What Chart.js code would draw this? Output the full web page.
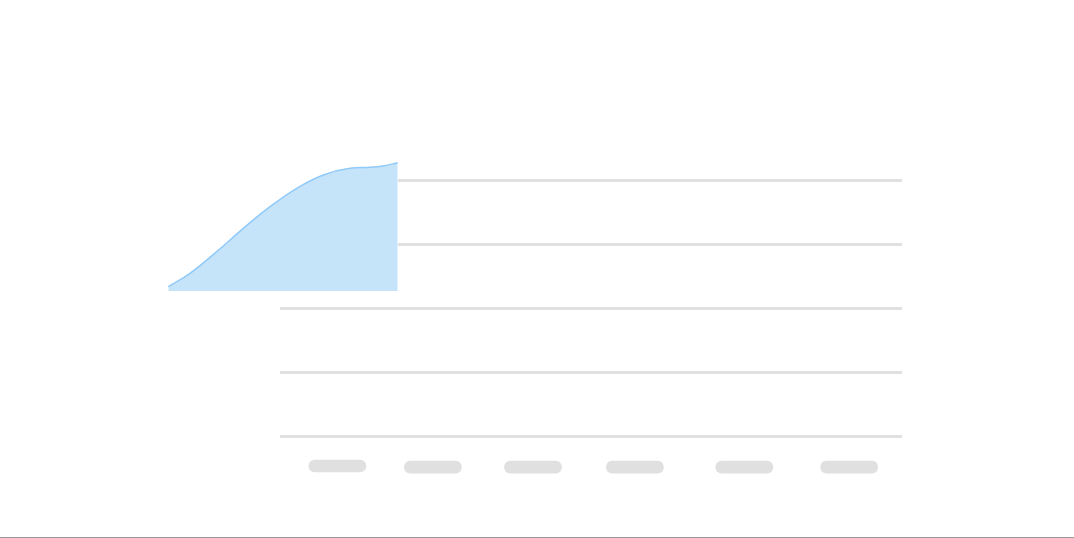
<!DOCTYPE html>
<html>
<head>
<meta charset="utf-8">
<script src="https://cdn.jsdelivr.net/npm/chart.js@4"></script>
<style>
  html, body { margin: 0; padding: 0; background: #fff; }
  #wrap { position: relative; width: 1074px; height: 537px; border-bottom: 1px solid #999; }
  #gridChart { position: absolute; left: 0; top: 0; }
  /* the area sits in its own white box that hides the grid behind it */
  #areaChart { position: absolute; left: 168px; top: 150px; background: #fff; }
</style>
</head>
<body>
<div id="wrap">
  <canvas id="gridChart" width="1074" height="537"></canvas>
  <canvas id="areaChart" width="230" height="142"></canvas>
</div>
<script>
// skeleton placeholder chart: grid rows, label pills and a partial area
const gridLevels = [0, 1, 2, 3, 4];
const labelSlots = [337.4, 432.9, 533.0, 634.9, 744.3, 849.2];
const labelBands = [[-0.375, -0.5625], [-0.39, -0.58], [-0.39, -0.58], [-0.39, -0.58], [-0.39, -0.58], [-0.39, -0.58]];
const areaX = [168.3, 190, 216.7, 243.3, 270, 296.7, 323.3, 350, 370, 383.3, 397.7];
const areaY = [2.333, 2.542, 2.880, 3.245, 3.583, 3.870, 4.078, 4.183, 4.198, 4.219, 4.270];
const areaBase = 2.266;

const grey = "#e0e0e0";

new Chart(document.getElementById("gridChart").getContext("2d"), {
  type: "bar",
  data: {
    datasets: [
      {
        data: labelSlots.map((x, i) => ({ x: x, y: labelBands[i] })),
        backgroundColor: grey,
        borderWidth: 0,
        borderRadius: 6,
        borderSkipped: false,
        barThickness: 57,
        clip: false,
      },
    ],
  },
  options: {
    responsive: false,
    animation: false,
    layout: { padding: { left: 280, right: 172, top: 180, bottom: 101 } },
    scales: {
      x: { type: "linear", min: 280, max: 902, offset: false, display: false },
      y: {
        min: gridLevels[0],
        max: gridLevels[gridLevels.length - 1],
        afterBuildTicks: (scale) => {
          scale.ticks = gridLevels.map((v) => ({ value: v }));
        },
        afterFit: (scale) => {
          scale.width = 0;
        },
        ticks: { display: false },
        border: { display: false },
        grid: { color: grey, lineWidth: 3, drawTicks: false },
      },
    },
    plugins: { legend: { display: false }, tooltip: { enabled: false } },
  },
});

// same units as the grid chart; canvas covers x 168..398, y 150..292 px
new Chart(document.getElementById("areaChart").getContext("2d"), {
  type: "line",
  data: {
    datasets: [
      {
        data: areaX.map((x, i) => ({ x: x, y: areaY[i] })),
        borderColor: "#90caf9",
        borderWidth: 1.5,
        backgroundColor: "#c5e3f9",
        fill: { value: areaBase },
        cubicInterpolationMode: "monotone",
        pointRadius: 0,
      },
    ],
  },
  options: {
    responsive: false,
    animation: false,
    layout: { padding: 0 },
    scales: {
      x: { type: "linear", min: 168, max: 398, display: false },
      y: { min: (436 - 292) / 64, max: (436 - 150) / 64, display: false },
    },
    plugins: { legend: { display: false }, tooltip: { enabled: false } },
  },
});
</script>
</body>
</html>
